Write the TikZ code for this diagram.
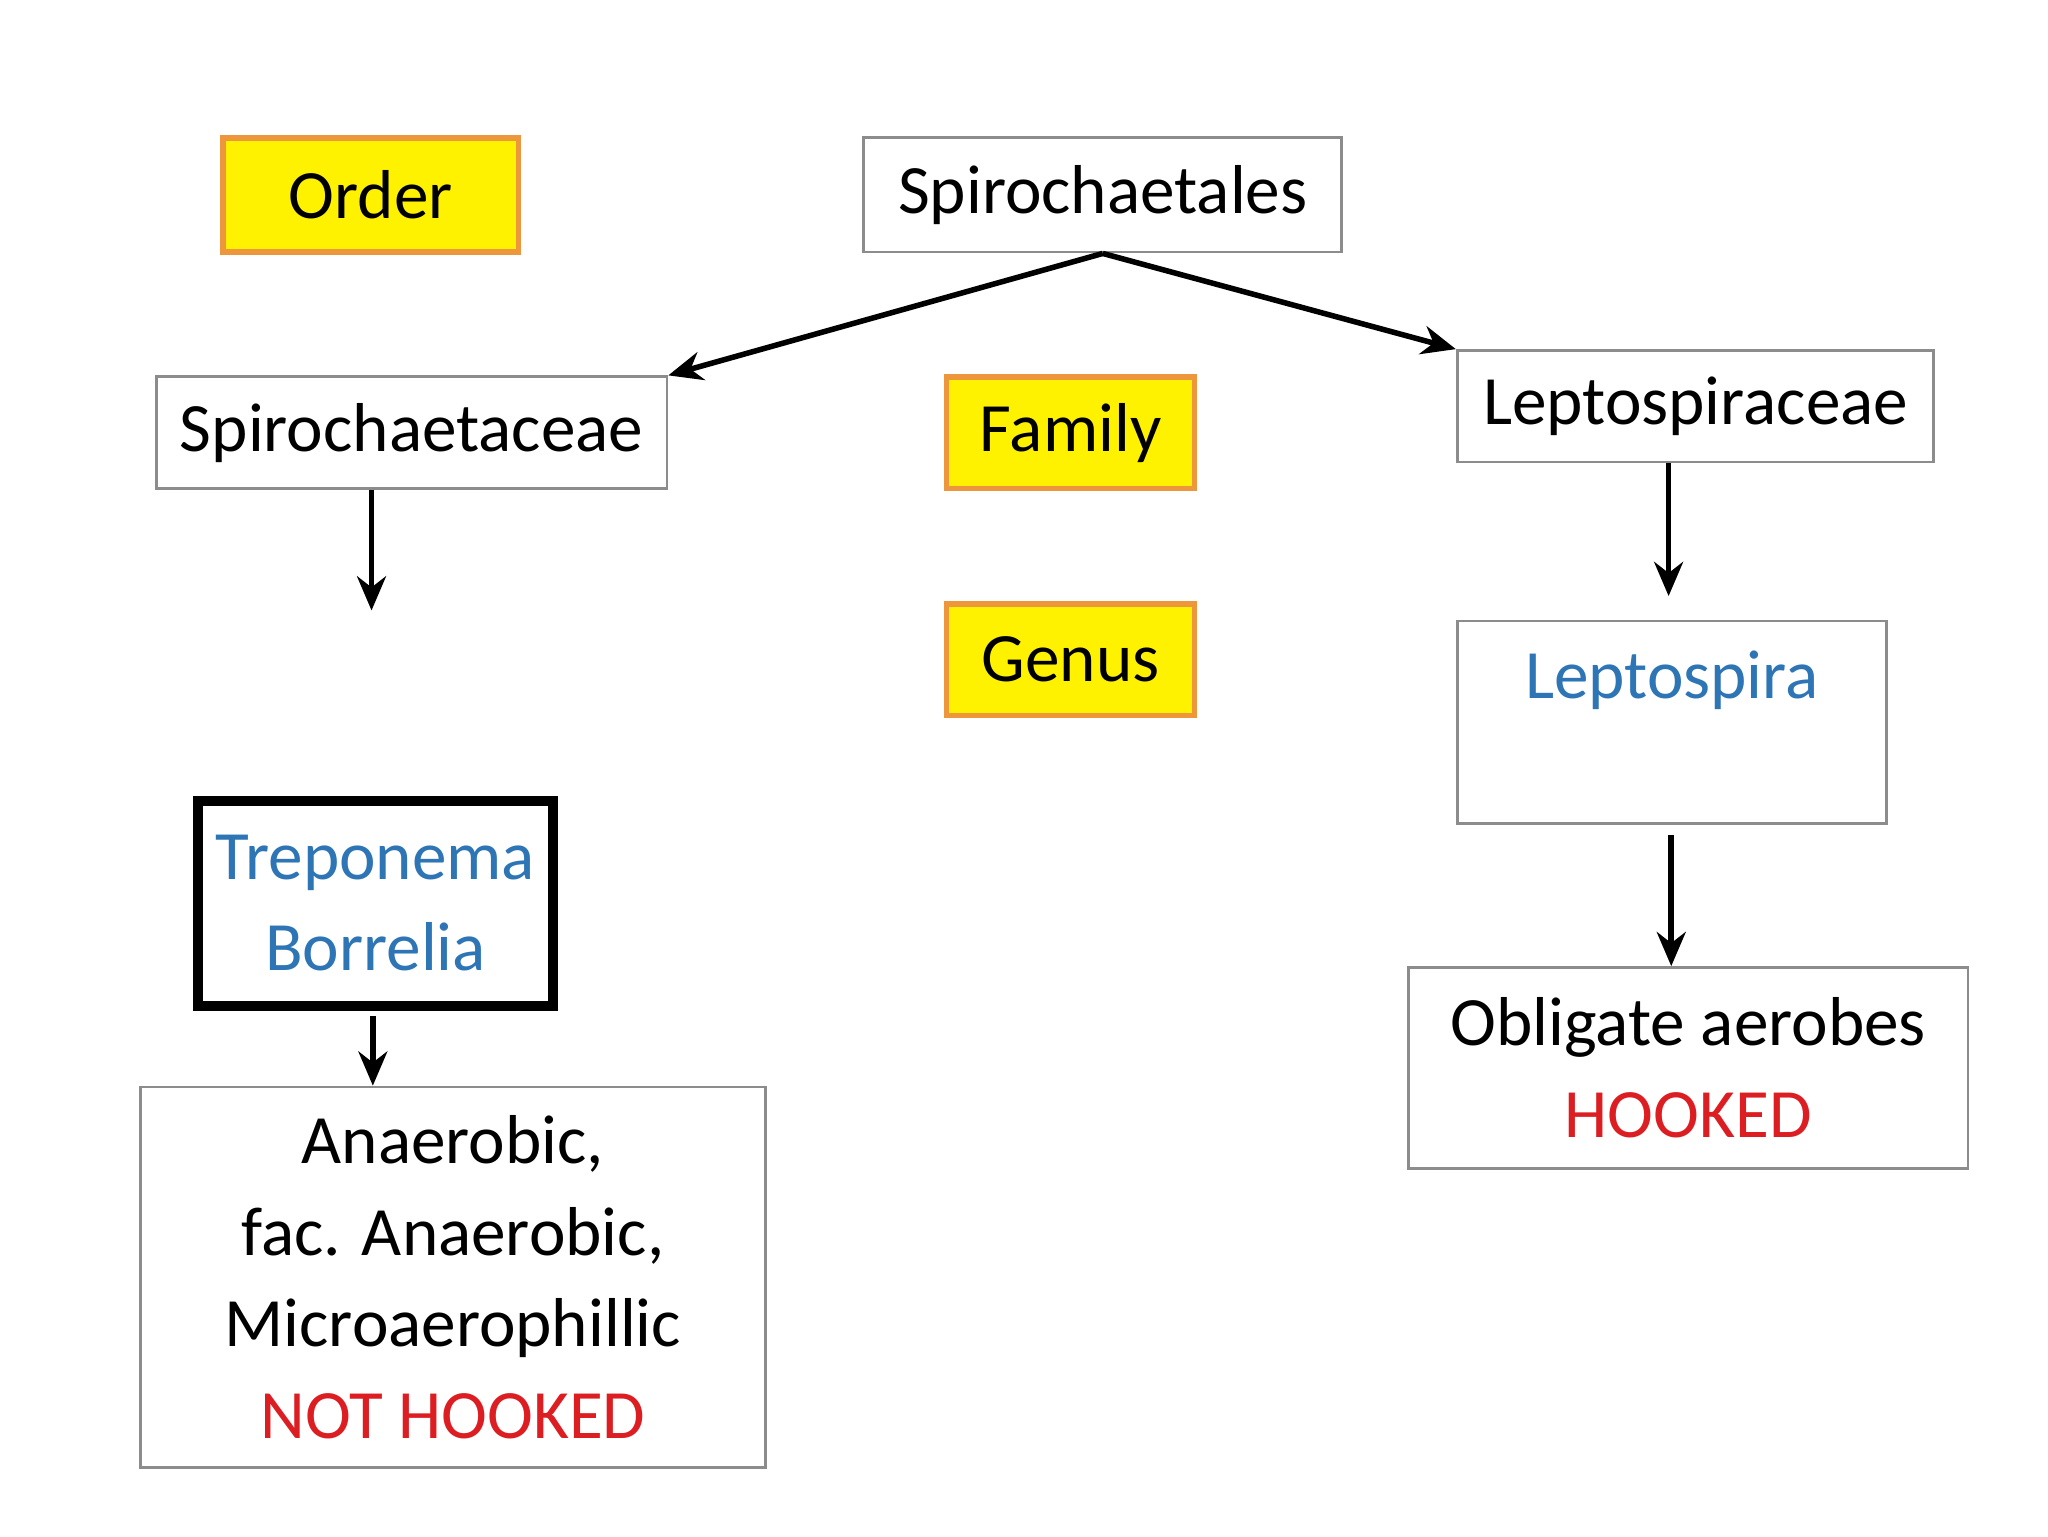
\documentclass[tikz,border=0pt]{standalone}
\usepackage{fontspec}
\setmainfont{Carlito}
\usetikzlibrary{arrows.meta}
\definecolor{taxblue}{RGB}{46,117,182}
\definecolor{taxred}{RGB}{220,30,35}
\definecolor{rankedge}{RGB}{237,150,60}
\begin{document}
\begin{tikzpicture}[x=1cm,y=1cm]

      \tikzset{box/.style={draw=black!45, line width=0.6pt, fill=white, inner sep=0pt, align=center, font=\fontsize{15}{19}\selectfont},
               rank/.style={box, draw=rankedge, line width=1.2pt, fill=yellow},
               link/.style={-{Stealth[length=2.6mm,width=2.2mm]}, line width=1.2pt}}
      \useasboundingbox (0,0) rectangle (15.6,-11.7);
% Rank labels
      	\node[rank, minimum width=2.25cm, minimum height=0.87cm] (order) at (2.825,-1.485) {Order};
      	\node[rank, minimum width=1.89cm, minimum height=0.85cm] (family) at (8.155,-3.295) {Family};
      	\node[rank, minimum width=1.89cm, minimum height=0.85cm] (genus) at (8.155,-5.025) {Genus};
% Taxa
      	\node[box, minimum width=3.64cm, minimum height=0.87cm] (spiro) at (8.4,-1.485) {Spirochaetales};
      	\node[box, minimum width=3.89cm, minimum height=0.85cm] (spiraceae) at (3.135,-3.295) {Spirochaetaceae};
      	\node[box, minimum width=3.63cm, minimum height=0.85cm] (lepraceae) at (12.915,-3.095) {Leptospiraceae};
      	\node[box, minimum width=3.27cm, minimum height=1.54cm] (lepto) at (12.735,-5.5) {};
      	\node[font=\fontsize{15}{19}\selectfont, text=taxblue] (leptoname) at (12.735,-5.18) {Leptospira};
      	\node[box, draw=black, line width=2.2pt, minimum width=2.7cm, minimum height=1.56cm, text=taxblue] (trep) at (2.86,-6.88) {Treponema\\[0.03cm]Borrelia};
      	\node[box, minimum width=4.76cm, minimum height=2.9cm] (anaer) at (3.45,-9.73) {Anaerobic,\\[0.03cm]fac. Anaerobic,\\[0.03cm]Microaerophillic\\[0.03cm]\textcolor{taxred}{NOT HOOKED}};
      	\node[box, minimum width=4.26cm, minimum height=1.53cm] (oblig) at (12.86,-8.135) {Obligate aerobes\\[0.03cm]\textcolor{taxred}{HOOKED}};
% Arrows
      	\coordinate (gap) at (2.83,-4.65);
		\draw[link] (spiro.south) -- (spiraceae.north east);
		\draw[link] (spiro.south) -- (lepraceae.north west);
		\draw[link] (spiraceae.south -| gap) -- (gap);
		\draw[link] (lepraceae.south -| 12.71,0) -- ++(0,-1.01);
		\draw[link] (lepto.south -| 12.73,0) ++(0,-0.08) -- (oblig.north -| 12.73,0);
		\draw[link] (trep.south -| 2.84,0) ++(0,-0.04) -- (anaer.north -| 2.84,0);

\end{tikzpicture}
\end{document}
